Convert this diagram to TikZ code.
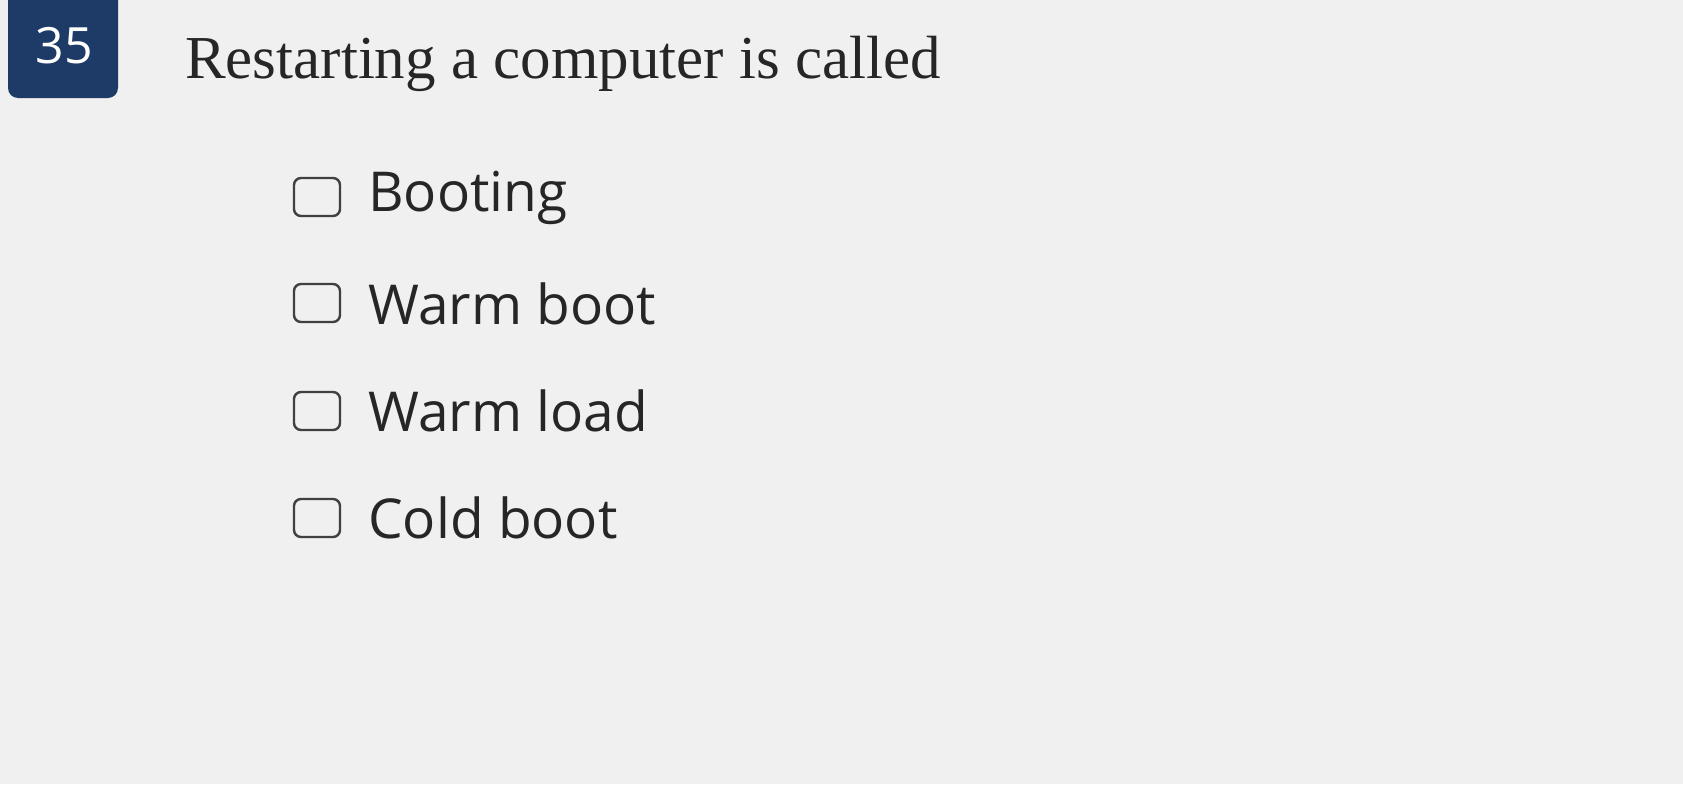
\documentclass[tikz,border=0pt]{standalone}
\usepackage{fontspec}
\setmainfont{Liberation Serif}
\newfontfamily\optfont{Open Sans}
\definecolor{badge}{HTML}{1E3A66}
\begin{document}
\begin{tikzpicture}[x=1pt,y=-1pt,
  cbox/.style={draw=black!75,line width=2.4pt,rounded corners=7pt,minimum width=46pt,minimum height=38pt,inner sep=0pt},
  opt/.style={anchor=west,font=\optfont\fontsize{55}{60}\selectfont,text=black!85,inner sep=0pt}]
\fill[gray!12!white] (0,0) rectangle (1683,784);
\useasboundingbox (0,0) rectangle (1683,784);
\fill[badge,rounded corners=10pt] (8,-10) rectangle (118,98);
\node[text=white,font=\optfont\fontsize{50}{54}\selectfont] (num) at (64,46) {35};
\node[anchor=west,inner sep=0pt,font=\fontsize{61}{66}\selectfont,text=black!85] (q) at (185,64) {Restarting a computer is called};
\node[cbox] (b1) at (317,197) {};
\node[opt] (t1) at (368,198) {Booting};
\node[cbox] (b2) at (317,303) {};
\node[opt] (t2) at (368,304) {Warm boot};
\node[cbox] (b3) at (317,411) {};
\node[opt] (t3) at (368,411) {Warm load};
\node[cbox] (b4) at (317,518) {};
\node[opt] (t4) at (368,518) {Cold boot};
\end{tikzpicture}
\end{document}
